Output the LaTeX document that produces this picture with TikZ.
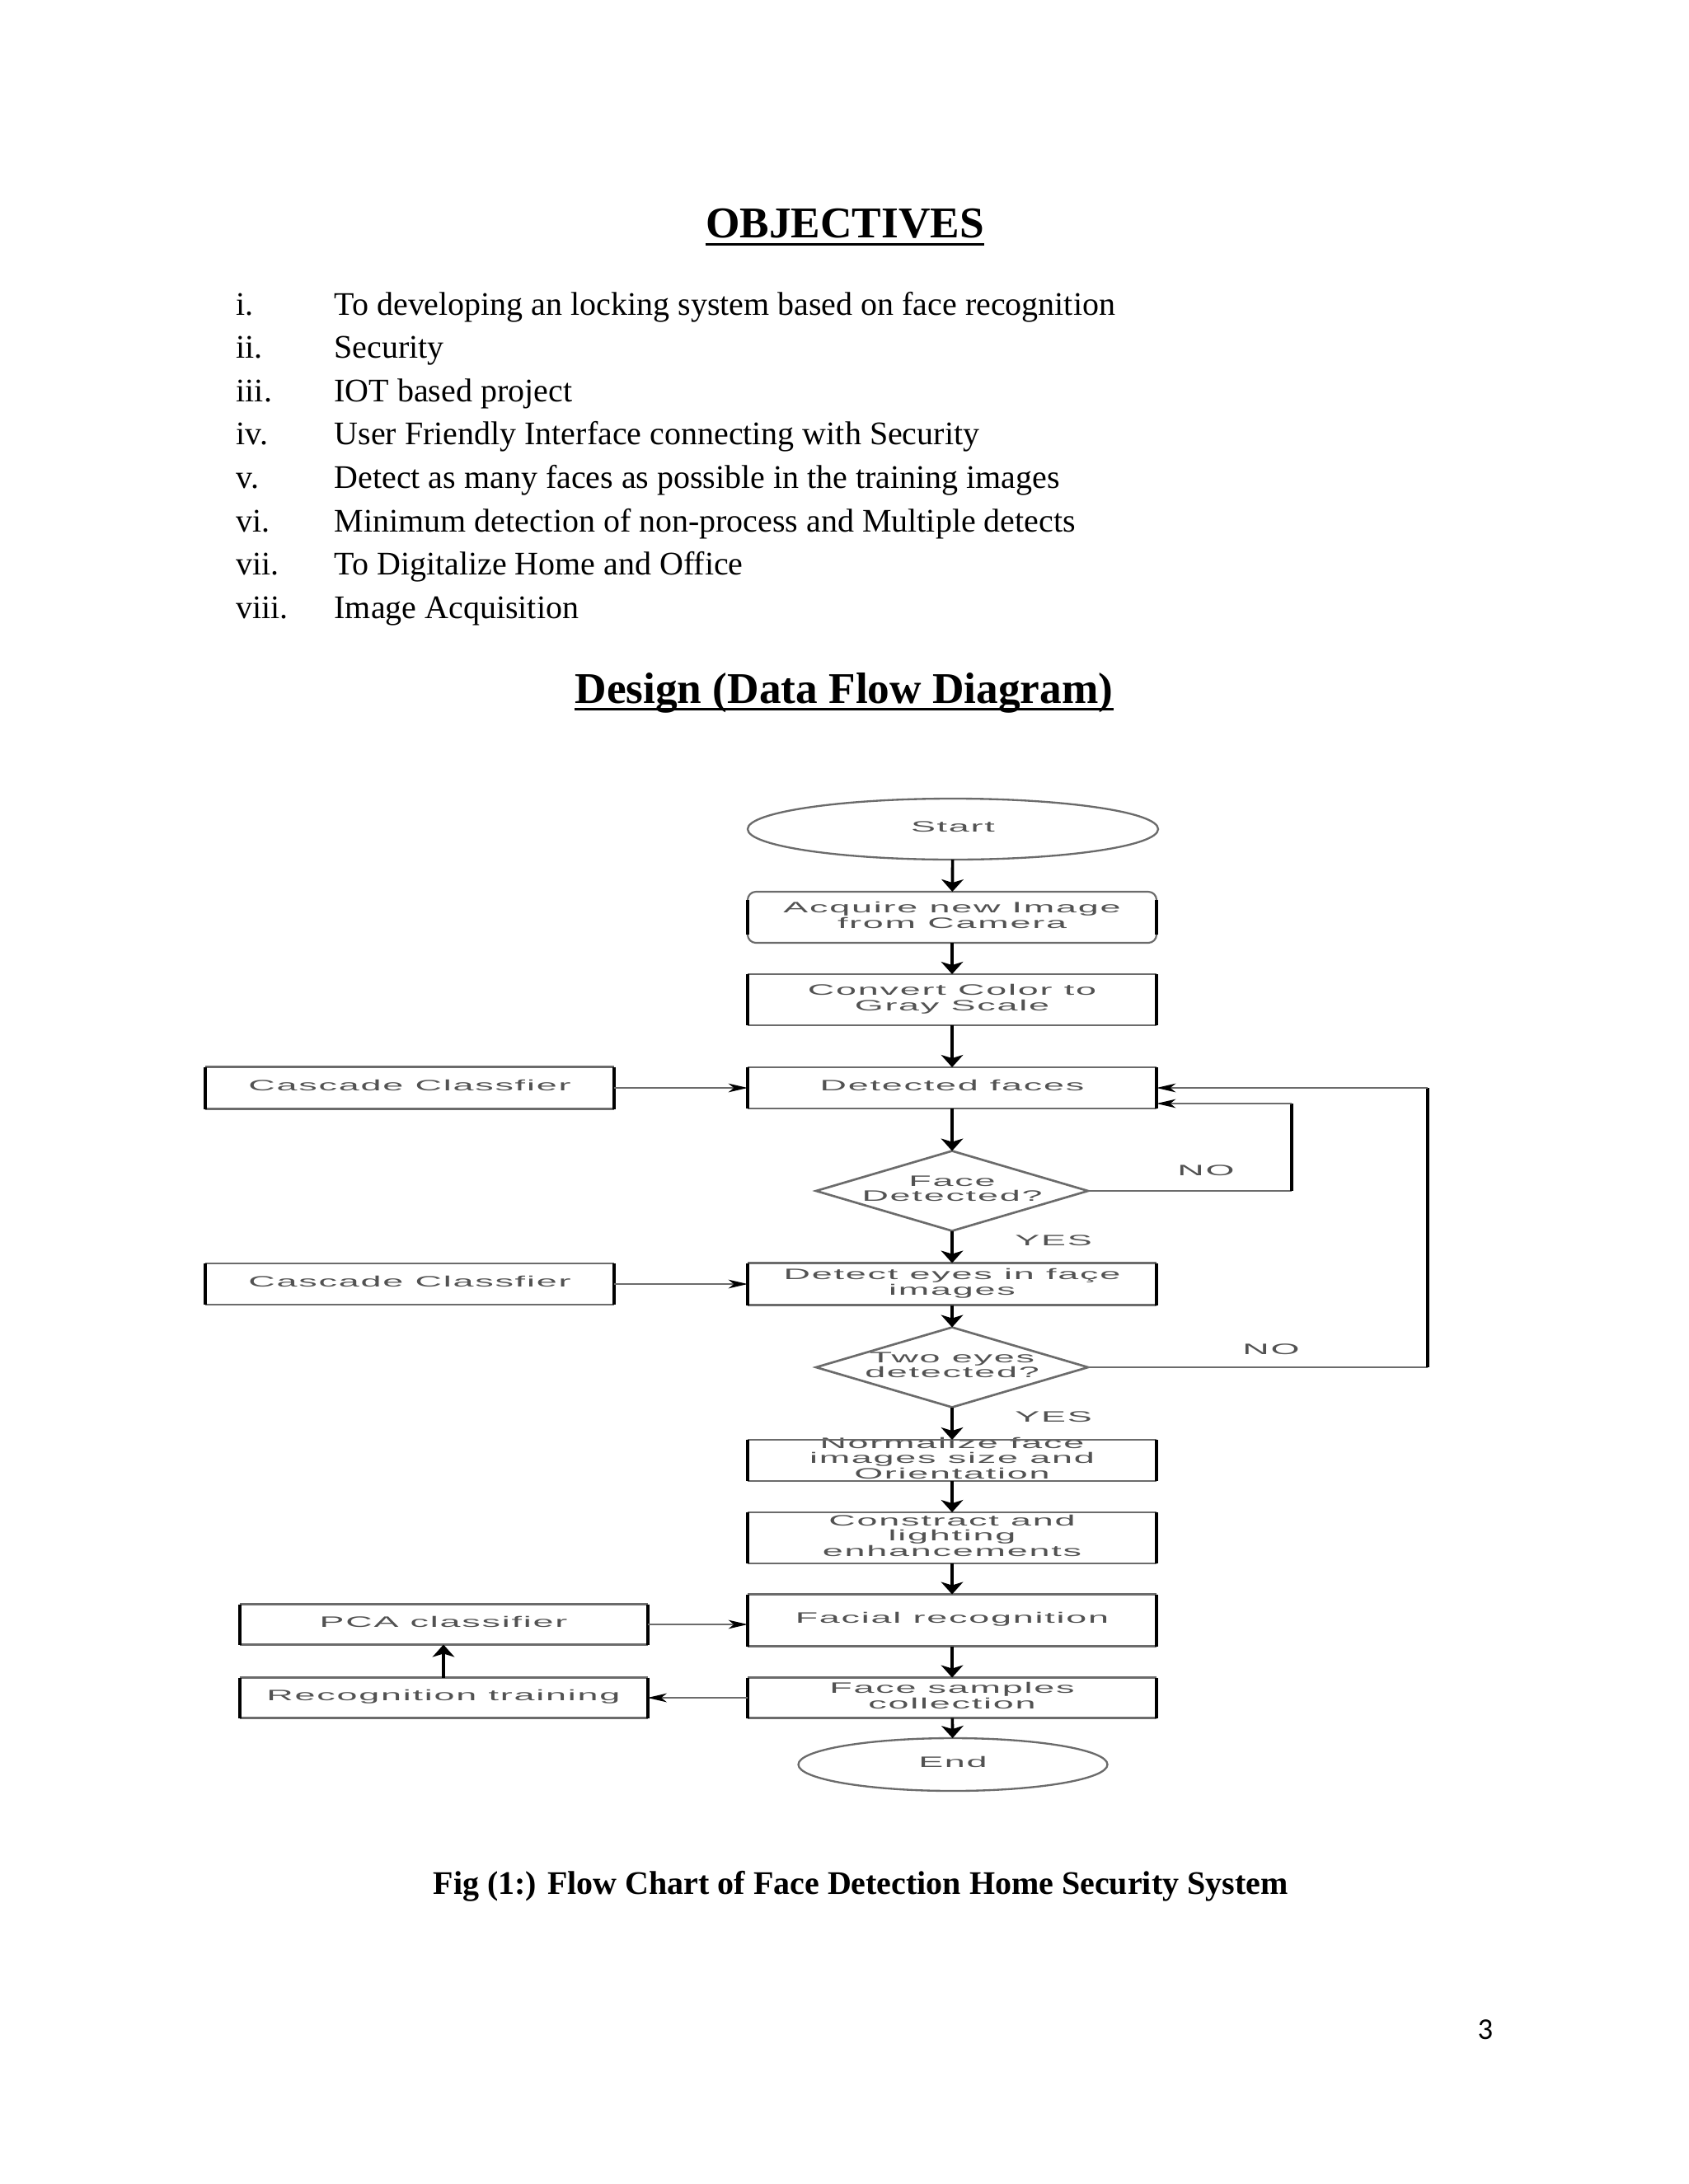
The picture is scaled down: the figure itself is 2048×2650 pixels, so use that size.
\documentclass[tikz,border=0pt]{standalone}
\usepackage{fontspec}
\usepackage{graphicx}
\setmainfont{Liberation Serif}
\newfontfamily\fcfont[LetterSpace=4]{Liberation Sans}
\newfontfamily\pnfont{Carlito}
\usetikzlibrary{arrows.meta,shapes.geometric}
\definecolor{fcgray}{gray}{0.32}
\definecolor{lngray}{gray}{0.42}
\newcommand\pxu{0.30023pt}
\newsavebox\fcsbox
\newcommand\fcraw[1]{{\fcfont\fontsize{5.5}{5.4}\selectfont\color{fcgray}\scalebox{2.45}[1]{\begin{tabular}{@{}c@{}}#1\end{tabular}}}}
\newcommand\fct[1]{\sbox\fcsbox{\fcraw{#1}}\makebox[0pt]{\smash{\raisebox{\dimexpr(\dp\fcsbox-\ht\fcsbox)/2\relax}{\usebox\fcsbox}}}}
\newcommand\frameit[1]{%
  \draw[hl] (#1.north west) -- (#1.north east) (#1.south west) -- (#1.south east);
  \draw[vl] (#1.north west) -- (#1.south west) (#1.north east) -- (#1.south east);}
\begin{document}
\begin{tikzpicture}[x=0.30023pt,y=-0.30023pt,
  hl/.style={draw=lngray,line width=0.65pt},
  vl/.style={draw=black,line width=1.2pt},
  box/.style={rectangle,draw=none,inner sep=0pt,outer sep=0pt,minimum width=496*\pxu},
  sbox/.style={rectangle,draw=none,inner sep=0pt,outer sep=0pt,minimum width=495*\pxu,minimum height=49*\pxu},
  ell/.style={ellipse,draw=lngray,line width=0.7pt,inner sep=0pt,outer sep=0pt},
  dia/.style={diamond,draw=lngray,line width=0.8pt,inner sep=0pt,outer sep=0pt,minimum width=330*\pxu,minimum height=97*\pxu},
  lab/.style={inner sep=0pt},
  arrV/.style={-{Stealth[length=4.5pt,width=8pt,inset=1.2pt]},line width=1.1pt,draw=black},
  arrH/.style={-{Stealth[length=7pt,width=3.2pt,inset=2pt,color=black]},line width=0.65pt,draw=lngray},
  li/.style={anchor=base west,inner sep=0pt,font=\fontsize{12}{14}\selectfont},
  head/.style={anchor=base,inner sep=0pt,font=\bfseries\fontsize{16}{19}\selectfont}]
\fill[white] (0,0) rectangle (2048,2650);
\useasboundingbox (0,0) rectangle (2048,2650);

% headings and list
\node[head] (obj) at (1025,289) {OBJECTIVES};
\draw[line width=1pt] ([yshift=-2.2pt]obj.base west) -- ([yshift=-2.2pt]obj.base east);
\node[li] (n1) at (286,382) {i.};
\node[li] (t1) at (405,382) {To developing  an locking  system  based on face  recognition};
\node[li] (n2) at (286,434.6) {ii.};
\node[li] (t2) at (405,434.6) {Security};
\node[li] (n3) at (286,487.2) {iii.};
\node[li] (t3) at (405,487.2) {IOT based project};
\node[li] (n4) at (286,539.8) {iv.};
\node[li] (t4) at (405,539.8) {User Friendly  Interface  connecting  with  Security};
\node[li] (n5) at (286,592.4) {v.};
\node[li] (t5) at (405,592.4) {Detect as many  faces as possible  in  the training  images};
\node[li] (n6) at (286,645) {vi.};
\node[li] (t6) at (405,645) {Minimum  detection  of non-process and  Multiple  detects};
\node[li] (n7) at (286,697.6) {vii.};
\node[li] (t7) at (405,697.6) {To Digitalize  Home and Office};
\node[li] (n8) at (286,750.2) {viii.};
\node[li] (t8) at (405,750.2) {Image  Acquisition};
\node[head] (des) at (1024,853) {Design (Data Flow Diagram)};
\draw[line width=1pt] ([yshift=-2.2pt]des.base west) -- ([yshift=-2.2pt]des.base east);

% main column
\node[ell,minimum width=498*\pxu,minimum height=74*\pxu] (start) at (1156,1006) {\fct{Start}};
\node[box,minimum height=62*\pxu] (acq) at (1155,1113) {\fct{Acquire new Image\\from Camera}};
\node[box,minimum height=62*\pxu] (conv) at (1155,1213) {\fct{Convert Color to\\Gray Scale}};
\node[box,minimum height=50*\pxu] (det) at (1155,1320) {\fct{Detected faces}};
\node[dia] (fd) at (1155,1445) {\fct{Face\\Detected?}};
\node[box,minimum height=51*\pxu] (eyes) at (1155,1558) {\fct{Detect eyes in façe\\images}};
\node[dia] (te) at (1155,1659) {\fct{Two eyes\\detected?}};
\node[box,minimum height=50*\pxu] (norm) at (1155,1772) {\fct{Normalize face\\images size and\\Orientation}};
\node[box,minimum height=62*\pxu] (contr) at (1155,1866) {\fct{Constract and\\lighting\\enhancements}};
\node[box,minimum height=63*\pxu] (facial) at (1155,1966) {\fct{Facial  recognition}};
\node[box,minimum height=49*\pxu] (samp) at (1155,2060) {\fct{Face samples\\collection}};
\node[ell,minimum width=375*\pxu,minimum height=64*\pxu] (end) at (1156,2141) {\fct{End}};

% side boxes
\node[box,minimum height=51*\pxu] (cas1) at (497,1320) {\fct{Cascade Classfier}};
\node[box,minimum height=50*\pxu] (cas2) at (497,1558) {\fct{Cascade Classfier}};
\node[sbox] (pca) at (538,1971) {\fct{PCA classifier}};
\node[sbox] (rec) at (538,2060) {\fct{Recognition training}};

% frames
\draw[hl,rounded corners=3pt] (acq.north west) rectangle (acq.south east);
\draw[vl] ([yshift=-3pt]acq.north west) -- ([yshift=3pt]acq.south west) ([yshift=-3pt]acq.north east) -- ([yshift=3pt]acq.south east);
\foreach \n in {conv,det,eyes,norm,contr,facial,samp,cas1,cas2,pca,rec} {\frameit{\n}}

% labels
\node[lab] (yes1) at (1278,1508) {\fcraw{YES}};
\node[lab] (yes2) at (1278,1722) {\fcraw{YES}};
\node[lab] (no1) at (1463,1423) {\fcraw{NO}};
\node[lab] (no2) at (1542,1640) {\fcraw{NO}};

% main flow
\draw[arrV] (start) -- (acq);
\draw[arrV] (acq) -- (conv);
\draw[arrV] (conv) -- (det);
\draw[arrV] (det) -- (fd);
\draw[arrV] (fd) -- (eyes);
\draw[arrV] (eyes) -- (te);
\draw[arrV] (te) -- (norm);
\draw[arrV] (norm) -- (contr);
\draw[arrV] (contr) -- (facial);
\draw[arrV] (facial) -- (samp);
\draw[arrV] (samp) -- (end);

% side arrows
\draw[arrH] (cas1) -- (det);
\draw[arrH] (cas2) -- (eyes);
\draw[arrH] (pca.east) -- (pca.east -| facial.west);
\draw[arrH] (samp.west) -- (samp.west -| rec.east);
\draw[arrV] (rec) -- (pca);

% loops
\coordinate (o1) at (1732,1659);
\coordinate (o2) at (1732,1320);
\coordinate (i1) at (1567,1445);
\coordinate (i2) at (1567,1339);
\draw[hl] (te.east) -- (o1);
\draw[vl] (o1) -- (o2);
\draw[arrH] (o2) -- (det.east);
\draw[hl] (fd.east) -- (i1);
\draw[vl] (i1) -- (i2);
\draw[arrH] (i2) -- (det.east |- i2);

% caption and page number
\node[anchor=base,inner sep=0pt,font=\bfseries\fontsize{12}{14}\selectfont] (cap) at (1044,2298) {Fig (1:) Flow Chart of Face Detection Home Security System};
\node[anchor=base,inner sep=0pt,font=\pnfont\fontsize{11}{13}\selectfont] (pg) at (1802,2474) {3};
\end{tikzpicture}
\end{document}
